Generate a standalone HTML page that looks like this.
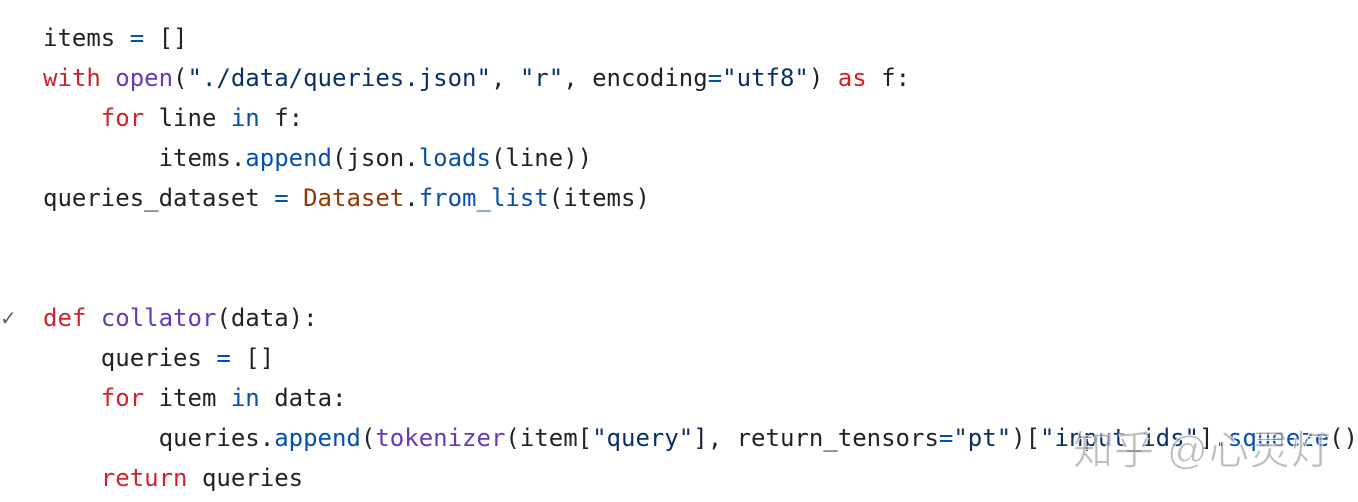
<!DOCTYPE html>
<html><head><meta charset="utf-8"><style>
html,body{margin:0;padding:0;background:#fff;width:1358px;height:502px;overflow:hidden;position:relative}
pre{position:absolute;left:43px;top:18px;margin:0;font-family:"DejaVu Sans Mono","Liberation Mono",monospace;font-size:24px;line-height:40px;color:#1f2328}
.k{color:#cf222e}.f{color:#6639ba}.s{color:#0a3069}.b{color:#0550ae}.c{color:#953800}
.chk{position:absolute;left:0;top:306px;font-family:"DejaVu Sans",sans-serif;font-size:20px;color:#57606a}
.wm{position:absolute;left:1073px;top:418px;font-family:"Liberation Sans","Noto Sans CJK SC",sans-serif;font-size:40px;color:rgba(150,150,150,0.65);-webkit-text-stroke:1px rgba(255,255,255,0.8);letter-spacing:1px}
</style></head><body>
<div class="chk">✓</div>
<pre>items <span class="b">=</span> []
<span class="k">with</span> <span class="f">open</span>(<span class="s">"./data/queries.json"</span>, <span class="s">"r"</span>, encoding<span class="b">=</span><span class="s">"utf8"</span>) <span class="k">as</span> f:
    <span class="k">for</span> line <span class="b">in</span> f:
        items.<span class="b">append</span>(json.<span class="b">loads</span>(line))
queries_dataset <span class="b">=</span> <span class="c">Dataset</span>.<span class="b">from_list</span>(items)


<span class="k">def</span> <span class="f">collator</span>(data):
    queries <span class="b">=</span> []
    <span class="k">for</span> item <span class="b">in</span> data:
        queries.<span class="b">append</span>(<span class="f">tokenizer</span>(item[<span class="s">"query"</span>], return_tensors<span class="b">=</span><span class="s">"pt"</span>)[<span class="s">"input_ids"</span>].<span class="b">squeeze</span>())
    <span class="k">return</span> queries</pre>
<div class="wm">知乎 @心灵灯</div>
</body></html>
